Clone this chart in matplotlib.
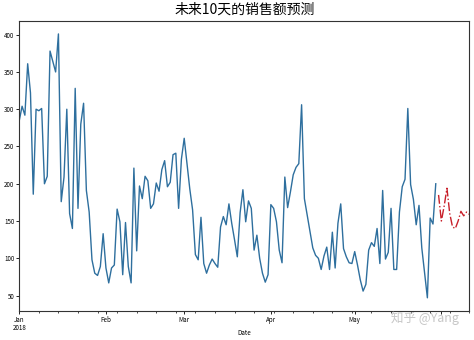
import matplotlib
matplotlib.use("Agg")
import matplotlib.pyplot as plt
import matplotlib.dates as mdates
import pandas as pd

plt.rcParams['font.family'] = ['Noto Sans CJK SC', 'DejaVu Sans']

# ---- data ----
history_start = "2018-01-01"
history_sales = [
    285, 304, 292, 361, 322, 186, 300, 298, 301, 200,
    210, 378, 364, 350, 401, 176, 209, 300, 160, 140,
    328, 167, 280, 308, 191, 162, 98, 80, 77, 89,
    133, 87, 67, 87, 91, 166, 149, 78, 148, 89,
    67, 221, 110, 197, 180, 210, 204, 167, 173, 201,
    190, 219, 231, 196, 202, 239, 241, 167, 233, 261,
    227, 193, 165, 105, 98, 155, 93, 80, 91, 99,
    93, 88, 142, 156, 145, 173, 147, 125, 102, 161,
    192, 149, 177, 167, 111, 131, 100, 80, 68, 78,
    172, 167, 149, 111, 94, 209, 168, 189, 212, 222,
    227, 306, 180, 158, 136, 114, 104, 100, 85, 103,
    115, 85, 135, 87, 147, 173, 113, 102, 94, 93,
    109, 91, 71, 56, 65, 111, 121, 116, 140, 93,
    191, 99, 108, 167, 85, 85, 162, 196, 206, 301,
    199, 179, 145, 171, 114, 80, 47, 154, 146, 200,
]
forecast_start = "2018-05-31"
forecast_sales = [185, 150, 170, 194, 160, 142, 140, 150, 163, 157, 162, 159]

month_labels = ["Jan\n2018", "Feb", "Mar", "Apr", "May"]
title = "未来10天的销售额预测"
xlabel = "Date"
watermark = "知乎 @Yang"

hist_dates = pd.date_range(history_start, periods=len(history_sales), freq="D")
fc_dates = pd.date_range(forecast_start, periods=len(forecast_sales), freq="D")

# ---- figure ----
fig = plt.figure(figsize=(4.74, 3.40), dpi=100)
ax = fig.add_axes([0.0407, 0.0853, 0.9494, 0.8537])

ax.plot(hist_dates, history_sales, color="#2e6f9e", lw=1.0)
ax.plot(fc_dates, forecast_sales, color="#c8202a", lw=1.0, ls="-.")

ax.set_xlim(hist_dates[0], fc_dates[-1])


def month_fmt(v, pos):
    m = mdates.num2date(v).month - 1
    return month_labels[m] if m < len(month_labels) else ""


ax.xaxis.set_major_locator(mdates.MonthLocator())
ax.xaxis.set_minor_locator(mdates.WeekdayLocator(byweekday=mdates.MO))
ax.xaxis.set_major_formatter(matplotlib.ticker.FuncFormatter(month_fmt))
ax.xaxis.set_minor_formatter(matplotlib.ticker.NullFormatter())

ax.set_yticks([50, 100, 150, 200, 250, 300, 350, 400])
ax.tick_params(axis="both", which="major", labelsize=4.5, length=2.5, width=0.6, pad=1.2)
ax.tick_params(axis="both", which="minor", length=1.5, width=0.5)
for lab in ax.get_xticklabels():
    lab.set_linespacing(0.95)

for s in ax.spines.values():
    s.set_color("#333333")
    s.set_linewidth(0.8)

ax.set_title(title, fontsize=10, pad=5)
ax.set_xlabel(xlabel, fontsize=4.5)
ax.xaxis.set_label_coords(0.5, -0.063)

fig.text(0.897, 0.064, watermark, color="#b8b8b8", fontsize=9,
         ha="center", va="center", alpha=0.8)

fig.savefig("out.png", dpi=100)
